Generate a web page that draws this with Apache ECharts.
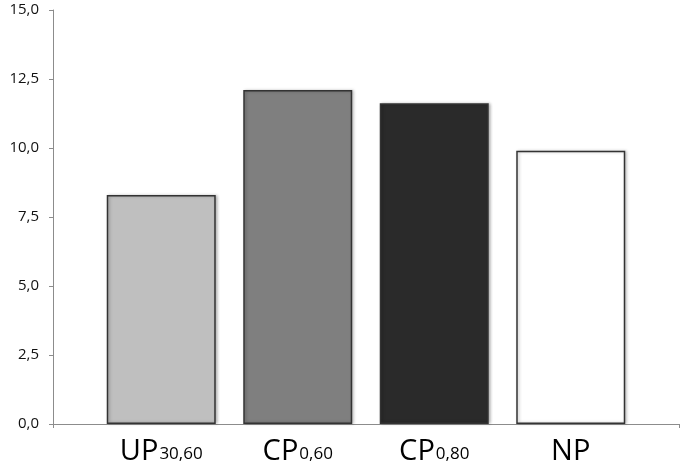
<!DOCTYPE html>
<html>
<head>
<meta charset="utf-8">
<script src="https://cdn.jsdelivr.net/npm/echarts@6/dist/echarts.min.js"></script>
<style>html,body{margin:0;padding:0;background:#fff}#c{width:685px;height:473px}</style>
</head>
<body>
<div id="c"></div>
<script>
var categories = ['UP|30,60', 'CP|0,60', 'CP|0,80', 'NP|'];
var values = [8.3, 12.1, 11.62, 9.9];
var barColors = ['#bfbfbf', '#7f7f7f', '#2a2a2a', '#ffffff'];
var yTicks = [0, 2.5, 5, 7.5, 10, 12.5, 15];

var chart = echarts.init(document.getElementById('c'), null, {renderer: 'canvas'});
var fontFam = '"Open Sans", "Noto Sans", sans-serif';
chart.setOption({
  animation: false,
  backgroundColor: '#ffffff',
  grid: [
    {left: 53, right: 6, top: 10, bottom: 49},
    {left: 93, right: 46, top: 10, bottom: 49}
  ],
  xAxis: [
    {gridIndex: 0, type: 'value', min: 0, max: 1, interval: 1,
     axisLine: {show: true, lineStyle: {color: '#8c8c8c', width: 1}},
     axisTick: {show: true, length: 4, lineStyle: {color: '#8c8c8c'}},
     axisLabel: {show: false}, splitLine: {show: false}},
    {gridIndex: 1, type: 'category', data: categories,
     axisLine: {show: false}, axisTick: {show: false},
     axisLabel: {
       margin: 8,
       interval: 0,
       formatter: function (v) {
         var p = v.split('|');
         return '{b|' + p[0] + '}' + (p[1] ? '{s|' + p[1] + '}' : '');
       },
       rich: {
         b: {fontFamily: fontFam, fontSize: 29, color: '#000', lineHeight: 34, verticalAlign: 'bottom'},
         s: {fontFamily: fontFam, fontSize: 17, color: '#000', lineHeight: 34, verticalAlign: 'bottom', padding: [0, 0, 3, 1]}
       }
     }}
  ],
  yAxis: [
    {gridIndex: 0, type: 'value', min: 0, max: 15, interval: 2.5,
     axisLine: {show: true, lineStyle: {color: '#8c8c8c', width: 1}},
     axisTick: {show: true, length: 4, lineStyle: {color: '#8c8c8c'}},
     splitLine: {show: false},
     axisLabel: {margin: 14, color: '#111', fontFamily: fontFam, fontSize: 15,
       customValues: yTicks,
       formatter: function (v) { return v.toFixed(1).replace('.', ','); }}},
    {gridIndex: 1, type: 'value', min: 0, max: 15, interval: 2.5, show: false}
  ],
  series: [{
    type: 'bar', xAxisIndex: 1, yAxisIndex: 1,
    barWidth: 109,
    data: values.map(function (v, i) {
      return {value: v, itemStyle: {color: barColors[i]}};
    }),
    itemStyle: {borderColor: '#333', borderWidth: 1.5,
      shadowColor: 'rgba(0,0,0,0.25)', shadowBlur: 3, shadowOffsetX: 1.5, shadowOffsetY: 0}
  }]
});
</script>
</body>
</html>
